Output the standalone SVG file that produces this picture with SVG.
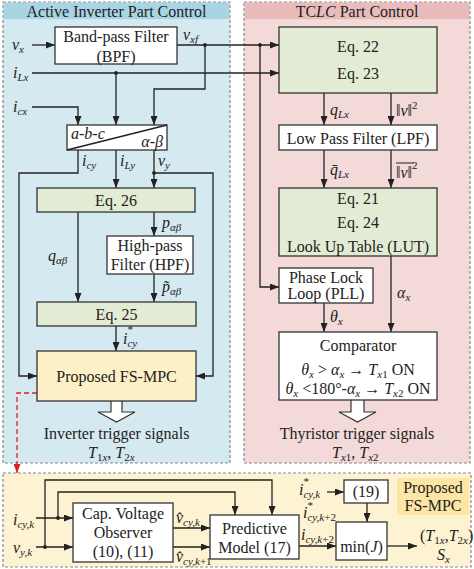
<svg xmlns="http://www.w3.org/2000/svg" width="474" height="569" viewBox="0 0 474 569" font-family="'Liberation Serif', 'Times New Roman', serif">
<defs>
<marker id="ar" markerUnits="userSpaceOnUse" markerWidth="9" markerHeight="7" refX="9" refY="3.5" orient="auto"><path d="M0,0 L9,3.5 L0,7 z" fill="#222"/></marker>
<marker id="arr" markerUnits="userSpaceOnUse" markerWidth="9" markerHeight="7" refX="9" refY="3.5" orient="auto"><path d="M0,0 L9,3.5 L0,7 z" fill="#e02020"/></marker>
</defs>
<style>
text{font-family:'Liberation Serif','Times New Roman',serif}
.t{font-size:16px;fill:#222;text-anchor:middle}
.h{font-size:16px;fill:#222;text-anchor:middle}
.m{font-style:italic;font-size:16px;fill:#222}
.s{font-size:11px}
.u{font-style:normal}
.box{fill:#fff;stroke:#333;stroke-width:1.3}
.g{fill:#e2ebd3;stroke:#333;stroke-width:1.3}
.c{fill:none;stroke:#222;stroke-width:1.3}
.a{fill:none;stroke:#222;stroke-width:1.3;marker-end:url(#ar)}
.pan{stroke:#888;stroke-width:1.2;stroke-dasharray:3,2}
</style>
<g id="panels">
<rect class="pan" x="3" y="2" width="227" height="461" fill="#d5e9f1"/>
<rect x="3.6" y="2.6" width="225.8" height="16.5" fill="#a9d4e4"/>
<text class="h" x="116.5" y="16.5">Active Inverter Part Control</text>
<rect class="pan" x="244" y="2" width="226" height="461" fill="#f3d9d8"/>
<rect x="244.6" y="2.6" width="224.8" height="16.5" fill="#e9bcbb"/>
<text class="h" x="357" y="16.5">TC<tspan font-style="italic">LC</tspan> Part Control</text>
<rect class="pan" x="3" y="473" width="468" height="94" fill="#fdf2d2"/>
<rect x="397" y="478" width="72" height="37" fill="#fde5a5"/>
<text class="t" x="433" y="493">Proposed</text>
<text class="t" x="433" y="511">FS-MPC</text>
</g>
<g id="connectors">
<line class="a" x1="32" y1="45" x2="55" y2="45"/>
<line class="a" x1="177" y1="45" x2="279" y2="45"/>
<polyline class="a" points="205,45 205,89 154,89 154,125"/>
<line class="a" x1="32" y1="73" x2="279" y2="73"/>
<line class="a" x1="116" y1="73" x2="116" y2="125"/>
<polyline class="a" points="32,107 78,107 78,125"/>
<polyline class="a" points="78,150 78,173 19,173 19,376 37,376"/>
<line class="a" x1="116" y1="150" x2="116" y2="188"/>
<line class="a" x1="154" y1="150" x2="154" y2="188"/>
<polyline class="a" points="154,173 213,173 213,376 196,376"/>
<line class="a" x1="78" y1="212" x2="78" y2="302"/>
<line class="a" x1="154" y1="212" x2="154" y2="236"/>
<line class="a" x1="154" y1="274" x2="154" y2="302"/>
<line class="a" x1="116" y1="326" x2="116" y2="351"/>
<polyline points="37,393 17,393 17,473" fill="none" stroke="#e02020" stroke-width="1.3" stroke-dasharray="5,3" marker-end="url(#arr)"/>
<line class="a" x1="324" y1="93" x2="324" y2="125"/>
<line class="a" x1="391" y1="93" x2="391" y2="125"/>
<line class="a" x1="324" y1="150" x2="324" y2="188"/>
<line class="a" x1="391" y1="150" x2="391" y2="188"/>
<polyline class="a" points="260,45 260,287 279,287"/>
<line class="a" x1="391" y1="256" x2="391" y2="332"/>
<line class="a" x1="324" y1="303" x2="324" y2="332"/>
<path d="M111,401 V412 H98 L116.5,422 L135,412 H122 V401" fill="#fff" stroke="#333" stroke-width="1.2"/>
<path d="M351,400 V412 H339 L357.5,422 L376,412 H364 V400" fill="#fff" stroke="#333" stroke-width="1.2"/>
<line class="a" x1="36" y1="518" x2="73" y2="518"/>
<polyline class="a" points="58,518 58,492 235,492 235,515"/>
<line class="a" x1="36" y1="547" x2="73" y2="547"/>
<polyline class="a" points="45,547 45,480 272,480 272,515"/>
<line class="a" x1="173" y1="528" x2="210" y2="528"/>
<line class="a" x1="173" y1="547" x2="210" y2="547"/>
<line class="a" x1="299" y1="546" x2="336" y2="546"/>
<line class="a" x1="327" y1="492" x2="344" y2="492"/>
<line class="a" x1="367" y1="503" x2="367" y2="522"/>
<line class="a" x1="387" y1="546" x2="417" y2="546"/>
<g fill="#222">
<circle cx="205" cy="45" r="1.9"/><circle cx="260" cy="45" r="1.9"/><circle cx="116" cy="73" r="1.9"/><circle cx="154" cy="173" r="1.9"/>
<circle cx="58" cy="518" r="1.9"/><circle cx="45" cy="547" r="1.9"/>
</g>
</g>
<g id="bpf"><rect class="box" x="55" y="27" width="122" height="37"/><text class="t" x="116" y="41.5">Band-pass Filter</text><text class="t" x="116" y="61.5">(BPF)</text></g>
<g id="abc"><rect class="box" x="67" y="125" width="100" height="25"/><line class="c" x1="67" y1="150" x2="167" y2="125"/>
<text class="m" x="71" y="139" font-size="14">a-b-c</text><text class="m" x="163" y="147" font-size="14" text-anchor="end">α-β</text></g>
<g id="eq26"><rect class="g" x="37" y="188" width="158" height="24"/><text class="t" x="116" y="205.5">Eq. 26</text></g>
<g id="hpf"><rect class="box" x="107" y="236" width="86" height="38"/><text class="t" x="150" y="251">High-pass</text><text class="t" x="150" y="269.5">Filter (HPF)</text></g>
<g id="eq25"><rect class="g" x="37" y="302" width="159" height="24"/><text class="t" x="116.5" y="319.5">Eq. 25</text></g>
<g id="fsmpc"><rect x="37" y="351" width="159" height="50" fill="#fdefc6" stroke="#333" stroke-width="1.3"/><text class="t" x="116.5" y="381.5" font-size="16.5">Proposed FS-MPC</text></g>
<g id="inv-out"><text class="t" x="116.5" y="438.5">Inverter trigger signals</text><text class="m" x="88" y="458">T<tspan class="s u" dy="3">1</tspan><tspan class="s">x</tspan><tspan class="u" dy="-3">, </tspan>T<tspan class="s u" dy="3">2</tspan><tspan class="s">x</tspan></text></g>
<g id="eq22"><rect class="g" x="279" y="27" width="158" height="66"/><text class="t" x="358" y="51.5">Eq. 22</text><text class="t" x="358" y="78.5">Eq. 23</text></g>
<g id="lpf"><rect class="box" x="279" y="125" width="158" height="25"/><text class="t" x="358" y="143.5">Low Pass Filter (LPF)</text></g>
<g id="eq21"><rect class="g" x="279" y="188" width="158" height="68"/><text class="t" x="358" y="203.5">Eq. 21</text><text class="t" x="358" y="227.5">Eq. 24</text><text class="t" x="358" y="251.5">Look Up Table (LUT)</text></g>
<g id="pll"><rect class="box" x="279" y="268" width="94" height="35"/><text class="t" x="326" y="282.5">Phase Lock</text><text class="t" x="326" y="299">Loop (PLL)</text></g>
<g id="comparator"><rect class="box" x="279" y="332" width="158" height="68"/><text class="t" x="358" y="350.5">Comparator</text>
<text class="t" x="358" y="374.5"><tspan font-style="italic">θ</tspan><tspan class="s" font-style="italic" dy="3">x</tspan><tspan dy="-3"> &gt; </tspan><tspan font-style="italic">α</tspan><tspan class="s" font-style="italic" dy="3">x</tspan><tspan dy="-3" font-weight="bold"> → </tspan><tspan font-style="italic">T</tspan><tspan class="s" dy="3"><tspan font-style="italic">x</tspan>1</tspan><tspan dy="-3"> ON</tspan></text>
<text class="t" x="358" y="393.5"><tspan font-style="italic">θ</tspan><tspan class="s" font-style="italic" dy="3">x</tspan><tspan dy="-3"> &lt;180°-</tspan><tspan font-style="italic">α</tspan><tspan class="s" font-style="italic" dy="3">x</tspan><tspan dy="-3" font-weight="bold"> → </tspan><tspan font-style="italic">T</tspan><tspan class="s" dy="3"><tspan font-style="italic">x</tspan>2</tspan><tspan dy="-3"> ON</tspan></text></g>
<g id="thy-out"><text class="t" x="357" y="438.5">Thyristor trigger signals</text><text class="m" x="332" y="458">T<tspan class="s" dy="3">x<tspan class="u">1</tspan></tspan><tspan class="u" dy="-3">, </tspan>T<tspan class="s" dy="3">x<tspan class="u">2</tspan></tspan></text></g>
<g id="observer"><rect class="box" x="73" y="503" width="100" height="59"/><text class="t" x="123" y="518.5">Cap. Voltage</text><text class="t" x="123" y="537.5">Observer</text><text class="t" x="123" y="556.5">(10), (11)</text></g>
<g id="predictive"><rect class="box" x="210" y="515" width="89" height="44"/><text class="t" x="254.5" y="533.5">Predictive</text><text class="t" x="254.5" y="552.5">Model (17)</text></g>
<g id="eq19"><rect class="box" x="344" y="480" width="44" height="23"/><text class="t" x="366" y="497">(19)</text></g>
<g id="minj"><rect class="box" x="336" y="522" width="51" height="38"/><text class="t" x="361.5" y="551.5">min(<tspan font-style="italic">J</tspan>)</text></g>
<g id="labels">
<text class="m" x="12" y="50">v<tspan class="s" dy="3">x</tspan></text>
<text class="m" x="183" y="40">v<tspan class="s" dy="3">xf</tspan></text>
<text class="m" x="13" y="78">i<tspan class="s" dy="3">Lx</tspan></text>
<text class="m" x="13" y="112">i<tspan class="s" dy="3">cx</tspan></text>
<text class="m" x="82" y="166">i<tspan class="s" dy="3">cy</tspan></text>
<text class="m" x="120" y="166">i<tspan class="s" dy="3">Ly</tspan></text>
<text class="m" x="158" y="166">v<tspan class="s" dy="3">y</tspan></text>
<text class="m" x="48" y="261">q<tspan class="s" dy="3">αβ</tspan></text>
<text class="m" x="162" y="228">p<tspan class="s" dy="3">αβ</tspan></text>
<text class="m" x="162" y="292">p̃<tspan class="s" dy="3">αβ</tspan></text>
<text class="m" x="123" y="344">i<tspan class="s" dy="3">cy</tspan></text>
<text class="m s" x="127" y="333">*</text>
<text class="m" x="330" y="115">q<tspan class="s" dy="3">Lx</tspan></text>
<text class="m" x="396" y="116"><tspan class="u">‖</tspan>v<tspan class="u">‖</tspan><tspan class="s u" dy="-7">2</tspan></text>
<text class="m" x="330" y="175">q̄<tspan class="s" dy="3">Lx</tspan></text>
<text class="m" x="396" y="178"><tspan class="u">‖</tspan>v<tspan class="u">‖</tspan><tspan class="s u" dy="-9">2</tspan></text>
<line x1="396" y1="163" x2="414" y2="163" stroke="#222" stroke-width="1"/>
<text class="m" x="397" y="298">α<tspan class="s" dy="3">x</tspan></text>
<text class="m" x="330" y="322">θ<tspan class="s" dy="3">x</tspan></text>
<text class="m" x="13" y="525">i<tspan class="s" dy="3">cy,k</tspan></text>
<text class="m" x="13" y="553">v<tspan class="s" dy="3">y,k</tspan></text>
<text class="m" x="176" y="523">v̂<tspan class="s" dy="3">cy,k</tspan></text>
<text class="m" x="176" y="562">v̂<tspan class="s" dy="3">cy,k<tspan class="u">+1</tspan></tspan></text>
<text class="m" x="299" y="495">i<tspan class="s" dy="3">cy,k</tspan></text>
<text class="m s" x="303" y="485">*</text>
<text class="m" x="303" y="518">i<tspan class="s" dy="3">cy,k<tspan class="u">+2</tspan></tspan></text>
<text class="m s" x="307" y="509">*</text>
<text class="m" x="301" y="540">i<tspan class="s" dy="3">cy,k<tspan class="u">+2</tspan></tspan></text>
<text class="m" x="420" y="541"><tspan class="u">(</tspan>T<tspan class="s u" dy="3">1</tspan><tspan class="s">x</tspan><tspan class="u" dy="-3">,</tspan>T<tspan class="s u" dy="3">2</tspan><tspan class="s">x</tspan><tspan class="u" dy="-3">)</tspan></text>
<text class="m" x="437" y="560">S<tspan class="s" dy="3">x</tspan></text>
</g>
</svg>
